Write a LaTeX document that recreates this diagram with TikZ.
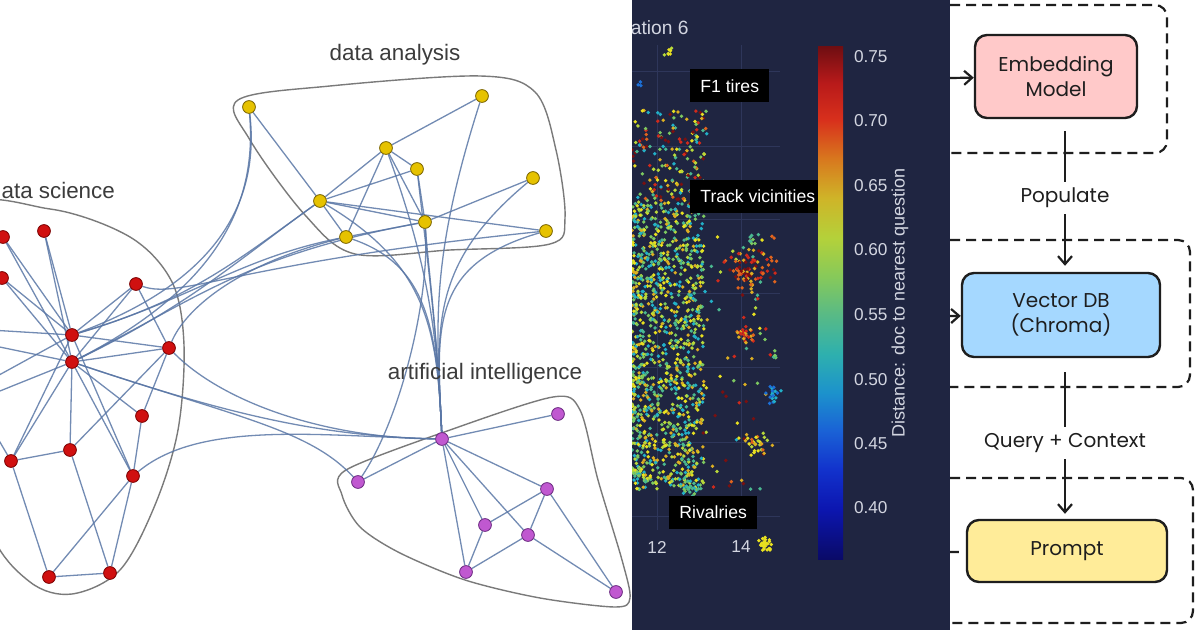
\documentclass[tikz,border=0pt]{standalone}
\usepackage{fontspec}
\setmainfont{Liberation Sans}
\newfontfamily\handfont{Poppins}
\usetikzlibrary{arrows.meta}
\pgfdeclarelayer{back}
\pgfdeclarelayer{links}
\pgfsetlayers{back,links,main}

\definecolor{plotbg}{HTML}{1F2541}
\definecolor{gridc}{HTML}{2E365A}
\definecolor{tickc}{HTML}{D2D5E0}
\definecolor{edgeblue}{HTML}{5A77A6}
\definecolor{hullgray}{HTML}{7A7A7A}
\definecolor{labgray}{HTML}{3C3C3C}
\definecolor{dsred}{HTML}{D01010}
\definecolor{dsredd}{HTML}{7A0000}
\definecolor{dayel}{HTML}{E6C200}
\definecolor{dayeld}{HTML}{7A6400}
\definecolor{aipur}{HTML}{C058D0}
\definecolor{aipurd}{HTML}{6A2A80}
\definecolor{ink}{HTML}{1E1E1E}
\definecolor{pinkfill}{HTML}{FFC9C9}
\definecolor{bluefill}{HTML}{A5D8FF}
\definecolor{yellowfill}{HTML}{FFEC99}
\definecolor{pc0}{HTML}{7A1010}
\definecolor{pc1}{HTML}{D02A1C}
\definecolor{pc2}{HTML}{E0641E}
\definecolor{pc3}{HTML}{DCAE22}
\definecolor{pc4}{HTML}{E8E020}
\definecolor{pc5}{HTML}{B8D83A}
\definecolor{pc6}{HTML}{7CC860}
\definecolor{pc7}{HTML}{4AB890}
\definecolor{pc8}{HTML}{22B0C8}
\definecolor{pc9}{HTML}{1C70D8}
\definecolor{cb0}{HTML}{0A0A66}
\definecolor{cb1}{HTML}{0C16B0}
\definecolor{cb2}{HTML}{1232CC}
\definecolor{cb3}{HTML}{1A62D6}
\definecolor{cb4}{HTML}{1C92CC}
\definecolor{cb5}{HTML}{2EB0AE}
\definecolor{cb6}{HTML}{58BA86}
\definecolor{cb7}{HTML}{86C95A}
\definecolor{cb8}{HTML}{B4D13A}
\definecolor{cb9}{HTML}{CFB428}
\definecolor{cb10}{HTML}{D8781E}
\definecolor{cb11}{HTML}{D8301C}
\definecolor{cb12}{HTML}{B81A1A}
\definecolor{cb13}{HTML}{700E12}

\pgfdeclareverticalshading{cbar}{100bp}{color(0bp)=(cb0); color(25bp)=(cb0);
  color(30bp)=(cb1); color(33.8bp)=(cb2); color(37.6bp)=(cb3); color(41.3bp)=(cb4);
  color(45.1bp)=(cb5); color(48.9bp)=(cb6); color(52.6bp)=(cb7); color(56.4bp)=(cb8);
  color(60.3bp)=(cb9); color(64.1bp)=(cb10); color(67.9bp)=(cb11); color(71.5bp)=(cb12);
  color(75bp)=(cb13); color(100bp)=(cb13)}

\begin{document}
\begin{tikzpicture}[x=0.5pt,y=-0.5pt,
  edge/.style={draw=edgeblue, line width=0.65pt, opacity=0.85},
  gdot/.style={circle, line width=0.4pt, inner sep=0pt, minimum size=6.4pt},
  rdot/.style={gdot, fill=dsred, draw=dsredd},
  ydot/.style={gdot, fill=dayel, draw=dayeld},
  pdot/.style={gdot, fill=aipur, draw=aipurd},
  hull/.style={draw=hullgray, line width=0.7pt},
  tag/.style={font=\fontsize{11.2}{13}\selectfont, text=labgray},
  tick/.style={font=\fontsize{8.6}{10}\selectfont, text=tickc},
  tagbox/.style={fill=black, text=white, font=\fontsize{8.8}{10}\selectfont, inner xsep=5pt, minimum height=16.5pt, anchor=west},
  box/.style={draw=ink, line width=1.2pt, rounded corners=6pt, align=center, font=\handfont\fontsize{10}{12.5}\selectfont, text=ink},
  embbox/.style={box, fill=pinkfill, minimum width=81pt, minimum height=41.5pt},
  dbbox/.style={box, fill=bluefill, minimum width=99pt, minimum height=42pt},
  prbox/.style={box, fill=yellowfill, minimum width=100pt, minimum height=31pt},
  note/.style={font=\handfont\fontsize{10}{12}\selectfont, text=ink, inner sep=3pt},
  zone/.style={draw=ink, line width=1.1pt, dash pattern=on 5pt off 3pt, rounded corners=6pt},
  link/.style={draw=ink, line width=1.1pt},
  flow/.style={link, -{Straight Barb[length=4pt,width=7pt]}}]
\useasboundingbox (0,0) rectangle (1200,630);
\begin{pgfonlayer}{back}
\fill [white] (0,0) rectangle (1200,630);
\fill [plotbg] (632,0) rectangle (950,630);
\end{pgfonlayer}

% data science
\node [rdot] (r1) at (3,237) {};
\node [rdot] (r2) at (44,231) {};
\node [rdot] (r3) at (2,278) {};
\node [rdot] (r4) at (136,284) {};
\node [rdot] (r5) at (72,335) {};
\node [rdot] (r6) at (72,362) {};
\node [rdot] (r7) at (169,348) {};
\node [rdot] (r8) at (142,416) {};
\node [rdot] (r9) at (11,461) {};
\node [rdot] (r10) at (70,450) {};
\node [rdot] (r11) at (133,476) {};
\node [rdot] (r12) at (49,577) {};
\node [rdot] (r13) at (110,573) {};
\coordinate (wA) at (-10,330);
\coordinate (wB) at (-10,345);
\coordinate (wC) at (-10,380);
\coordinate (wD) at (-10,395);
\coordinate (wE) at (-10,425);
% data analysis
\node [ydot] (y1) at (249,107) {};
\node [ydot] (y2) at (482,96) {};
\node [ydot] (y3) at (386,148) {};
\node [ydot] (y4) at (417,169) {};
\node [ydot] (y5) at (533,178) {};
\node [ydot] (y6) at (320,201) {};
\node [ydot] (y7) at (425,222) {};
\node [ydot] (y8) at (346,237) {};
\node [ydot] (y9) at (546,231) {};
% artificial intelligence
\node [pdot] (p1) at (442,439) {};
\node [pdot] (p2) at (558,414) {};
\node [pdot] (p3) at (358,482) {};
\node [pdot] (p4) at (547,489) {};
\node [pdot] (p5) at (485,525) {};
\node [pdot] (p6) at (528,535) {};
\node [pdot] (p7) at (466,572) {};
\node [pdot] (p8) at (616,592) {};

\begin{pgfonlayer}{links}
\draw [hull] plot [smooth cycle, tension=0.55] coordinates {(238,100) (330,86) (480,76) (535,92) (556,150) (565,218) (550,244) (450,250) (355,254) (305,215) (250,140)};
\draw [hull] plot [smooth cycle, tension=0.55] coordinates {(-40,215) (50,209) (130,237) (172,282) (184,345) (178,430) (155,505) (120,570) (72,594) (30,582) (-10,530) (-40,400)};
\draw [hull] plot [smooth cycle, tension=0.5] coordinates {(346,470) (450,430) (553,397) (580,410) (598,480) (622,560) (630,598) (615,607) (540,598) (465,580) (400,553) (360,527) (342,495)};
\foreach \a/\b in {r1/r5, r1/r6, r2/r5, r2/r6, r3/r5, r3/r6, r4/r5, r4/r6, r4/r7, r5/r7, r6/r7,
  r6/r8, r7/r8, r5/r9, r6/r9, r6/r10, r5/r11, r6/r11, r8/r11, r9/r10, r9/r12, r10/r13,
  r11/r12, r11/r13, r12/r13, r10/r7, r5/wA, r5/wC, r6/wB, r6/wD, r9/wE,
  y1/y6, y2/y3, y3/y4, y3/y6, y3/y8, y3/y7, y4/y6, y4/y7, y5/y7, y6/y7, y6/y9, y6/y8, y8/y7,
  p1/p2, p1/p3, p1/p4, p1/p5, p1/p6, p1/p7, p4/p5, p4/p6, p4/p8, p5/p7, p6/p7, p6/p8}
  \draw [edge] (\a) -- (\b);
\draw [edge] (r5) .. controls (190,300) and (235,262) .. (y6);
\draw [edge] (r6) .. controls (190,305) and (235,262) .. (y6);
\draw [edge] (r5) .. controls (190,300) and (240,258) .. (y8);
\draw [edge] (r6) .. controls (195,300) and (245,255) .. (y7);
\draw [edge] (r4) .. controls (180,300) and (240,262) .. (y9);
\draw [edge] (r7) .. controls (185,310) and (235,265) .. (y8);
\draw [edge] (y1) .. controls (258,185) and (235,275) .. (r5);
\draw [edge] (y1) .. controls (256,190) and (232,280) .. (r6);
\draw [edge] (r6) .. controls (230,415) and (320,436) .. (p1);
\draw [edge] (r7) .. controls (220,400) and (320,438) .. (p1);
\draw [edge] (r11) .. controls (200,420) and (320,436) .. (p1);
\draw [edge] (r6) .. controls (240,418) and (310,430) .. (p3);
\foreach \a in {y2,y3,y4,y5,y6,y7,y8,y9}
  \draw [edge] (\a) .. controls (428,265) and (437,330) .. (p1);
\draw [edge] (p3) .. controls (400,420) and (430,300) .. (y7);
\end{pgfonlayer}

\node [tag] (labs) at (52,190) {data science};
\node [tag] (laba) at (395,55) {data analysis};
\node [tag] (labi) at (485,374) {artificial intelligence};

% scatter panel
\begin{scope}
\clip (632,0) rectangle (790,630);
\foreach \gy in {72,147,220,294,368,443,517}
  \draw [gridc, line width=0.5pt] (632,\gy) -- (780,\gy);
\foreach \gx in {657,741}
  \draw [gridc, line width=0.5pt] (\gx,45) -- (\gx,530);
\node [tick, font=\fontsize{9.6}{12}\selectfont, anchor=east, inner sep=0pt] (ttl) at (689,28) {ation 6};
\pgfmathsetseed{12}
\foreach \i in {1,...,1150} {
  \pgfmathsetmacro\px{632+72*pow(rnd,1.3)}
  \pgfmathsetmacro\py{200+290*rnd}
  \pgfmathtruncatemacro\k{min(8,3+6*rnd)}
  \fill [pc\k] (\px,\py) circle (0.95pt);
}
\foreach \i in {1,...,170} {
  \pgfmathsetmacro\px{632+75*rnd}
  \pgfmathsetmacro\py{110+95*rnd}
  \pgfmathtruncatemacro\k{min(8,9*rnd)}
  \fill [pc\k] (\px,\py) circle (0.95pt);
}
\foreach \i in {1,...,70} {
  \pgfmathsetmacro\px{695+80*rnd}
  \pgfmathsetmacro\py{230+260*rnd}
  \pgfmathtruncatemacro\k{min(8,9*rnd)}
  \fill [pc\k] (\px,\py) circle (0.95pt);
}
\foreach \cx/\cy/\sx/\sy/\n/\ka/\kb in {752/272/30/24/80/0/3, 744/335/12/10/24/1/3,
  772/393/10/14/18/8/9, 757/443/16/14/28/2/5, 765/545/7/8/26/4/4, 668/52/5/5/7/4/5,
  753/240/5/5/7/6/7, 776/355/4/6/6/6/7, 690/490/14/10/22/6/8, 640/85/4/6/3/9/9}
  \foreach \i in {1,...,\n} {
    \pgfmathsetmacro\px{\cx+\sx*(rnd+rnd-1)}
    \pgfmathsetmacro\py{\cy+\sy*(rnd+rnd-1)}
    \pgfmathtruncatemacro\k{min(\kb,\ka+(\kb-\ka+1)*rnd)}
    \fill [pc\k] (\px,\py) circle (0.95pt);
  }
\end{scope}
\node [tick] (xt12) at (657,547) {12};
\node [tick] (xt14) at (741,547) {14};
\node [tagbox] (tires) at (690,86) {F1 tires};
\node [tagbox] (track) at (690,196.5) {Track vicinities};
\node [tagbox] (rival) at (669,512.5) {Rivalries};
\shade [shading=cbar] (818,47) rectangle (843,560);
\foreach \v/\yy in {0.75/57, 0.70/121, 0.65/186, 0.60/250, 0.55/315, 0.50/380, 0.45/444, 0.40/508}
  \node [tick, anchor=west] (cb\yy) at (847,\yy) {\v};
\node [tick, font=\fontsize{9}{10}\selectfont, rotate=90] (cbttl) at (900,303) {Distance: doc to nearest question};

% pipeline
\node [embbox] (emb) at (1056,76.5) {Embedding\\Model};
\node [dbbox] (vdb) at (1061,315) {Vector DB\\(Chroma)};
\node [prbox] (prm) at (1067,551) {Prompt};
\node [note] (pop) at (1065,198) {Populate};
\node [note] (qc) at (1065,443) {Query + Context};
\draw [zone] (950,5) -- (1167,5) -- (1167,153) -- (950,153);
\draw [zone] (950,240) -- (1190,240) -- (1190,387) -- (950,387);
\draw [zone] (950,478) -- (1193,478) -- (1193,623) -- (950,623);
\coordinate (inE) at (950,78);
\coordinate (inV) at (950,316);
\coordinate (inP) at (950,552);
\draw [flow] (inE) -- (emb);
\draw [flow] (inV) -- (vdb);
\draw [link, shorten >=3.5pt] (inP) -- (prm);
\draw [link, shorten <=6pt] (pop |- emb.south) -- (pop);
\draw [flow, shorten >=3pt] (pop) -- (pop |- vdb.north);
\draw [link, shorten <=7pt] (qc |- vdb.south) -- (qc);
\draw [flow, shorten >=2.5pt] (qc) -- (qc |- prm.north);
\end{tikzpicture}
\end{document}
